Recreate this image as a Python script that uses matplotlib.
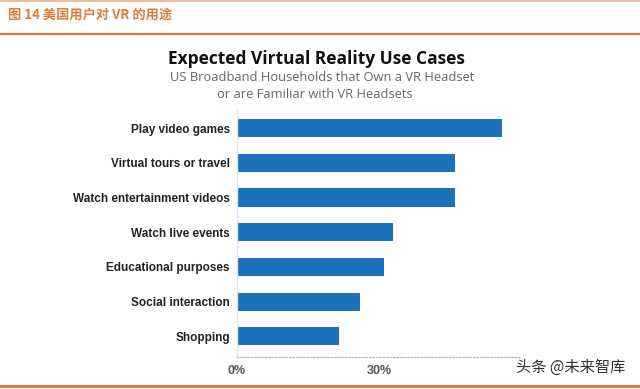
import matplotlib.pyplot as plt
from matplotlib.lines import Line2D

categories = ["Play video games", "Virtual tours or travel", "Watch entertainment videos",
              "Watch live events", "Educational purposes", "Social interaction", "Shopping"]
values = [56, 46, 46, 33, 31, 26, 21.5]
tick_values = [0, 30]
tick_labels = ["0%", "30%"]

ORANGE = "#e07b39"
BLUE = "#1b72ba"

plt.rcParams['font.family'] = ['Liberation Sans Narrow', 'Liberation Sans', 'DejaVu Sans']

fig = plt.figure(figsize=(6.4, 3.89), dpi=100)
ax = fig.add_axes([0.370, 0.082, 0.444, 0.635])

y = list(range(len(categories)))
ax.barh(y, values, height=0.52, color=BLUE)
ax.set_ylim(6.6, -0.52)
ax.set_xlim(0, 60)
ax.set_yticks(y)
ax.set_yticklabels(categories, fontsize=8.5, fontweight='bold', color='#222222')
ax.set_xticks(tick_values)
ax.set_xticklabels(tick_labels, fontsize=9, fontweight='bold', color='#555555')
ax.tick_params(length=0, pad=6)
ax.tick_params(axis='y', pad=5)
for s in ['top', 'right']:
    ax.spines[s].set_visible(False)
ax.spines['left'].set_color('#dde6ee')
ax.spines['left'].set_linewidth(1)
ax.spines['bottom'].set_linestyle((0, (1, 1.5)))
ax.spines['bottom'].set_color('#bbbbbb')
ax.spines['bottom'].set_linewidth(1)

# header
fig.text(0.012, 0.962, "图 14 美国用户对 VR 的用途", fontsize=9.5, fontweight='bold',
         color=ORANGE, family=['Noto Sans CJK SC', 'DejaVu Sans'], va='center')
fig.add_artist(Line2D([0, 1], [0.998, 0.998], color=ORANGE, lw=1.2, alpha=0.6))
fig.add_artist(Line2D([0, 1], [0.912, 0.912], color=ORANGE, lw=1.6))
fig.add_artist(Line2D([0, 1], [0.008, 0.008], color=ORANGE, lw=2.2))

fig.text(0.495, 0.848, "Expected Virtual Reality Use Cases", fontsize=12.5, fontweight='bold',
         color='#111111', ha='center', va='center', family=['Open Sans', 'DejaVu Sans'])
fig.text(0.504, 0.802, "US Broadband Households that Own a VR Headset", fontsize=9.3,
         color='#666666', ha='center', va='center', family=['Open Sans', 'DejaVu Sans'])
fig.text(0.492, 0.758, "or are Familiar with VR Headsets", fontsize=9.3,
         color='#666666', ha='center', va='center', family=['Open Sans', 'DejaVu Sans'])

fig.text(0.977, 0.056, "头条 @未来智库", fontsize=11, color='#333333', ha='right',
         va='center', family=['Noto Sans CJK SC', 'DejaVu Sans'])

fig.savefig("out.png", dpi=100, facecolor='white')
